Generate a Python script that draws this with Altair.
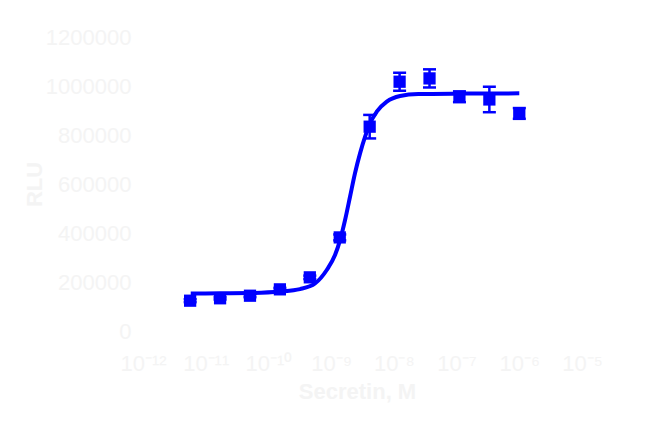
import altair as alt
import pandas as pd

# Measured points (Secretin concentration in M, RLU mean and error)
conc = [5.645e-12, 1.694e-11, 5.081e-11, 1.524e-10, 4.572e-10, 1.372e-9,
        4.115e-9, 1.235e-8, 3.704e-8, 1.111e-7, 3.333e-7, 1.0e-6]
rlu_mean = [123700, 133500, 144000, 170000, 219000, 382000,
            834000, 1017500, 1031000, 956000, 945000, 888000]
rlu_err = [6000, 5000, 6000, 6000, 7000, 12000,
           48000, 37000, 37000, 22000, 52000, 22000]

# Fitted curve
fit_conc = [5.77e-12, 1.69e-11, 5.09e-11, 1.53e-10, 3.19e-10, 5.53e-10, 8.51e-10,
            1.153e-9, 1.387e-9, 1.667e-9, 2.0e-9, 2.4e-9, 2.89e-9, 3.48e-9,
            4.17e-9, 5.33e-9, 7.71e-9, 1.256e-8, 2.46e-8, 1.14e-7, 1.0e-6]
fit_rlu = [153000, 154000, 155000, 161000, 171000, 194000, 249000,
           310000, 371000, 453000, 548000, 644000, 725000, 793000,
           848000, 895000, 936000, 959000, 967000, 969000, 970000]

x_ticks = [1e-12, 1e-11, 1e-10, 1e-9, 1e-8, 1e-7, 1e-6, 1e-5]
x_tick_labels = ["10⁻¹²", "10⁻¹¹", "10⁻¹⁰", "10⁻⁹", "10⁻⁸", "10⁻⁷", "10⁻⁶", "10⁻⁵"]
y_ticks = [0, 200000, 400000, 600000, 800000, 1000000, 1200000]

pts = pd.DataFrame({
    "conc": conc,
    "mean": rlu_mean,
    "lo": [m - e for m, e in zip(rlu_mean, rlu_err)],
    "hi": [m + e for m, e in zip(rlu_mean, rlu_err)],
})
fit = pd.DataFrame({"conc": fit_conc, "rlu": fit_rlu})

TXT = "#f4f4f4"
BLUE = "#0000ff"
FONT = "Liberation Sans"

label_expr = "[" + ",".join("'" + s + "'" for s in x_tick_labels) + "][round(log(datum.value)/LN10)+12]"

xscale = alt.Scale(type="log", domain=[1e-12, 1e-5], nice=False)
yscale = alt.Scale(domain=[0, 1200000], nice=False, zero=False)

xaxis = alt.Axis(
    values=x_ticks, labelExpr=label_expr, title="Secretin, M",
    labelFontSize=22, labelFont=FONT, labelColor=TXT, labelPadding=17,
    labelFlush=False, labelOverlap=False, labelBound=False,
    tickSize=5, tickColor="white", domainColor="white", grid=False,
    titleFontSize=22, titleFont=FONT, titleFontWeight="bold", titleColor=TXT,
    titleX=214, titleY=50, titleBaseline="top",
)
yaxis = alt.Axis(
    values=y_ticks, format="d", title="RLU",
    labelFontSize=22, labelFont=FONT, labelColor=TXT, labelPadding=7,
    labelFlush=False, labelOverlap=False,
    tickSize=5, tickColor="white", domainColor="white", grid=False,
    titleFontSize=22, titleFont=FONT, titleFontWeight="bold", titleColor=TXT,
    titleX=-97, titleY=147, titleAngle=270, titleBaseline="bottom",
)

line = alt.Chart(fit).mark_line(color=BLUE, strokeWidth=4, interpolate="monotone").encode(
    x=alt.X("conc:Q", scale=xscale, axis=xaxis),
    y=alt.Y("rlu:Q", scale=yscale, axis=yaxis),
)

bars = alt.Chart(pts).mark_rule(color=BLUE, strokeWidth=2.5).encode(
    x=alt.X("conc:Q", scale=xscale),
    y=alt.Y("lo:Q", scale=yscale),
    y2="hi:Q",
)
caps_lo = alt.Chart(pts).mark_tick(color=BLUE, orient="horizontal", size=13, thickness=2.5, opacity=1).encode(
    x=alt.X("conc:Q", scale=xscale),
    y=alt.Y("lo:Q", scale=yscale),
)
caps_hi = alt.Chart(pts).mark_tick(color=BLUE, orient="horizontal", size=13, thickness=2.5, opacity=1).encode(
    x=alt.X("conc:Q", scale=xscale),
    y=alt.Y("hi:Q", scale=yscale),
)
squares = alt.Chart(pts).mark_square(color=BLUE, size=150, opacity=1).encode(
    x=alt.X("conc:Q", scale=xscale),
    y=alt.Y("mean:Q", scale=yscale),
)

chart = alt.layer(line, bars, caps_lo, caps_hi, squares).properties(
    width=439, height=294,
    padding={"left": 135, "top": 29, "right": 60, "bottom": 87},
    autosize=alt.AutoSizeParams(type="none"),
    background="white",
).configure_view(stroke=None)

chart.save("out.html", embed_options={"renderer": "svg", "actions": False})
